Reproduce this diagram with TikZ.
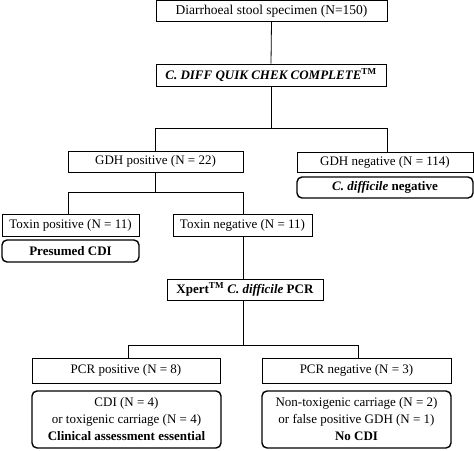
\documentclass[tikz,border=0pt]{standalone}
\usepackage{fontspec}
\setmainfont{Liberation Serif}
\begin{document}
\begin{tikzpicture}[x=1pt,y=-1pt,
  box/.style={draw, line width=0.8pt, inner sep=0pt, align=center,
    font=\fontsize{13}{17}\selectfont},
  rbox/.style={draw, line width=1.4pt, rounded corners=5pt, inner sep=0pt, align=center,
    font=\fontsize{13}{17}\selectfont},
  conn/.style={line width=0.8pt}]
\useasboundingbox (0,0) rectangle (474,450);
% boxes: centre, width, height
\node[box, minimum width=231pt, minimum height=21pt, font=\fontsize{13.5}{16}\selectfont] (top) at (271.5,11) {Diarrhoeal stool specimen (N=150)};
\node[box, minimum width=230pt, minimum height=22pt] (quik) at (271,75) {\textbf{\textit{C. DIFF QUIK CHEK COMPLETE}}\textsuperscript{\textbf{TM}}};
\node[box, minimum width=175pt, minimum height=21pt] (gdhp) at (155.5,161.5) {GDH positive (N = 22)};
\node[box, minimum width=176pt, minimum height=20pt] (gdhn) at (385,162) {GDH negative (N = 114)};
\node[rbox, minimum width=176pt, minimum height=21pt] (cdneg) at (385,187.5) {\textbf{\textit{C. difficile} negative}};
\node[box, minimum width=137pt, minimum height=22pt] (toxp) at (70.5,225) {Toxin positive (N = 11)};
\node[rbox, minimum width=137pt, minimum height=22pt] (pres) at (70.5,251) {\textbf{Presumed CDI}};
\node[box, minimum width=139pt, minimum height=22pt] (toxn) at (242.5,225) {Toxin negative (N = 11)};
\node[box, minimum width=156pt, minimum height=21pt] (xpert) at (245,289.5) {\textbf{Xpert\textsuperscript{TM} \textit{C. difficile} PCR}};
\node[box, minimum width=188pt, minimum height=25pt] (pcrp) at (126,370.5) {PCR positive (N = 8)};
\node[box, minimum width=189pt, minimum height=25pt] (pcrn) at (356.5,370.5) {PCR negative (N = 3)};
\node[rbox, minimum width=189pt, minimum height=57pt] (resp) at (126.5,419.5) {CDI (N = 4)\\or toxigenic carriage (N = 4)\\\textbf{Clinical assessment essential}};
\node[rbox, minimum width=189pt, minimum height=57pt] (resn) at (356.5,419.5) {Non-toxigenic carriage (N = 2)\\or false positive GDH (N = 1)\\\textbf{No CDI}};
% junction coordinates
\coordinate (j1) at (271,128);
\coordinate (a1) at (155.5,128);
\coordinate (a2) at (387,128);
\coordinate (j2) at (155.5,192.5);
\coordinate (b1) at (68,192.5);
\coordinate (b2) at (243,192.5);
\coordinate (j3) at (243,345);
\coordinate (c1) at (128,345);
\coordinate (c2) at (358,345);
% connectors
\draw[conn] (top.south) -- (quik.north);
\draw[conn] (quik.south) -- (j1);
\draw[conn] (a1 |- gdhp.north) -- (a1) -- (a2) -- (a2 |- gdhn.north);
\draw[conn] (j2 |- gdhp.south) -- (j2);
\draw[conn] (b1 |- toxp.north) -- (b1) -- (b2) -- (b2 |- toxn.north);
\draw[conn] (b2 |- toxn.south) -- (b2 |- xpert.north);
\draw[conn] (j3 |- xpert.south) -- (j3);
\draw[conn] (c1 |- pcrp.north) -- (c1) -- (c2) -- (c2 |- pcrn.north);
\end{tikzpicture}
\end{document}
